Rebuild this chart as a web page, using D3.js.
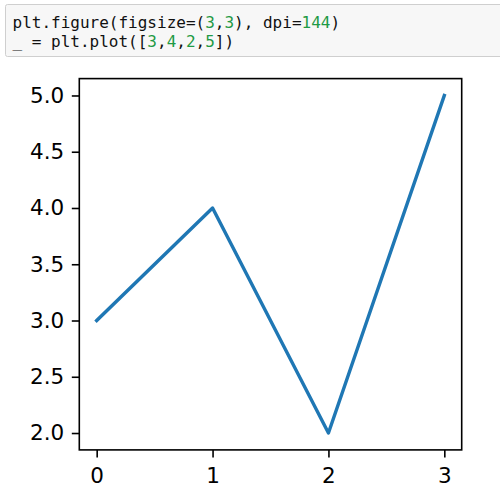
<!DOCTYPE html>
<html>
<head>
<meta charset="utf-8">
<script src="https://cdn.jsdelivr.net/npm/d3@7"></script>
<style>
  body { margin: 0; background: #fff; }
</style>
</head>
<body>
<div id="chart"></div>
<script>
// notebook cell source, split in tokens so numbers get their own colour
const codeLine1 = [["plt.figure(figsize=(", "code"], ["3", "num"], [",", "code"], ["3", "num"], ["), dpi=", "code"], ["144", "num"], [")", "code"]];
const codeLine2 = [["_ = plt.plot([", "code"], ["3", "num"], [",", "code"], ["4", "num"], [",", "code"], ["2", "num"], [",", "code"], ["5", "num"], ["])", "code"]];

const xValues = [0, 1, 2, 3];
const yValues = [3, 4, 2, 5];
const xTicks = [0, 1, 2, 3];
const yTicks = [2.0, 2.5, 3.0, 3.5, 4.0, 4.5, 5.0];

const width = 500;
const height = 504;
const plot = { left: 79.3, right: 461.7, top: 78.6, bottom: 449.9 };

const svg = d3.select("#chart")
  .append("svg")
  .attr("width", width)
  .attr("height", height);

// code cell box
svg.append("rect")
  .attr("x", 5.5)
  .attr("y", 4.5)
  .attr("width", 520)
  .attr("height", 52)
  .attr("rx", 2)
  .attr("fill", "#f7f7f7")
  .attr("stroke", "#cfcfcf")
  .attr("stroke-width", 1);

const codeColors = { code: "#111", num: "#1f9a45" };

function codeText(g, tokens, y) {
  const t = g.append("text")
    .attr("x", 12.5)
    .attr("y", y)
    .attr("font-family", "DejaVu Sans Mono, monospace")
    .attr("font-size", "16px")
    .attr("xml:space", "preserve")
    .style("white-space", "pre");
  t.selectAll("tspan")
    .data(tokens)
    .join("tspan")
    .attr("fill", d => codeColors[d[1]])
    .text(d => d[0]);
}

const code = svg.append("g");
codeText(code, codeLine1, 27.7);
codeText(code, codeLine2, 46.7);

const x = d3.scaleLinear()
  .domain([-0.15, 3.15])
  .range([plot.left, plot.right]);

const y = d3.scaleLinear()
  .domain([1.85, 5.15])
  .range([plot.bottom, plot.top]);

const line = d3.line()
  .x((d, i) => x(xValues[i]))
  .y(d => y(d));

svg.append("path")
  .datum(yValues)
  .attr("d", line)
  .attr("fill", "none")
  .attr("stroke", "#1f77b4")
  .attr("stroke-width", 3.4)
  .attr("stroke-linejoin", "round")
  .attr("stroke-linecap", "square");

function styleAxis(g) {
  g.select(".domain").remove();
  g.selectAll(".tick line").attr("stroke", "#000").attr("stroke-width", 1.6);
  g.selectAll(".tick text")
    .attr("fill", "#000")
    .attr("font-family", "DejaVu Sans, sans-serif")
    .attr("font-size", "21.5px");
}

svg.append("g")
  .attr("transform", `translate(0,${plot.bottom})`)
  .call(d3.axisBottom(x).tickValues(xTicks).tickFormat(d3.format("d")).tickSize(7.5).tickPadding(10))
  .call(styleAxis);

svg.append("g")
  .attr("transform", `translate(${plot.left},0)`)
  .call(d3.axisLeft(y).tickValues(yTicks).tickFormat(d3.format(".1f")).tickSize(7.5).tickPadding(7.6))
  .call(styleAxis);

// axes frame
svg.append("rect")
  .attr("x", plot.left)
  .attr("y", plot.top)
  .attr("width", plot.right - plot.left)
  .attr("height", plot.bottom - plot.top)
  .attr("fill", "none")
  .attr("stroke", "#000")
  .attr("stroke-width", 1.6);
</script>
</body>
</html>
